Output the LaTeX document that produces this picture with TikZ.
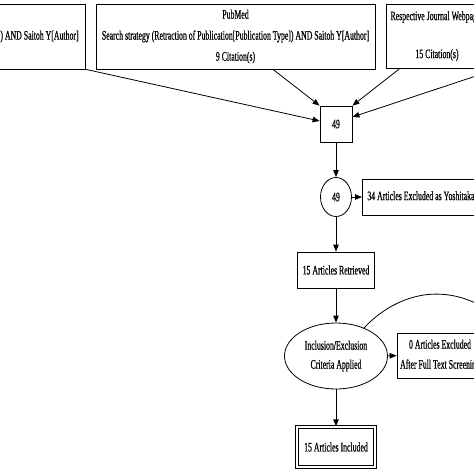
\documentclass[tikz,border=0pt]{standalone}
\usepackage{fontspec}
\setmainfont{Liberation Serif}[FakeStretch=0.6,FakeBold=0.6]
\usetikzlibrary{arrows.meta,shapes.geometric}
\begin{document}
\begin{tikzpicture}[x=1pt,y=-1pt,
  every node/.style={font=\fontsize{13}{21}\selectfont, text=black},
  box/.style={draw, rectangle, line width=0.8pt, inner sep=0pt},
  oval/.style={draw, ellipse, line width=0.8pt, inner sep=0pt},
  edge/.style={line width=0.8pt, -{Triangle[length=7pt,width=5.5pt]}},
  plain/.style={line width=0.8pt}]
\useasboundingbox (0,0) rectangle (474,474);
\fill[white] (0,0) rectangle (474,474);
\clip (0,0) rectangle (474,474);

\node[box, anchor=east, inner xsep=7pt, minimum height=65pt] (lb) at (86,36.5) {\hspace*{160pt}Search strategy (Fujii Y[Author]) AND Saitoh Y[Author]};
\node[box, minimum width=279pt, minimum height=65pt, align=center] (pm) at (235.5,36.5) {PubMed\\Search strategy (Retraction of Publication[Publication Type]) AND Saitoh Y[Author]\\9 Citation(s)};
\node[box, minimum width=102pt, minimum height=64pt, align=center, font=\fontsize{13}{19}\selectfont] (rb) at (437,36) {Respective Journal Webpages\\[19pt]15 Citation(s)};

\node[box, minimum width=32pt, minimum height=36pt] (b49) at (336,124) {49};
\node[oval, minimum width=31pt, minimum height=39pt] (c49) at (336,197) {49};
\node[box, anchor=west, minimum height=36pt, inner xsep=5pt] (ex34) at (362,197) {34 Articles Excluded as Yoshitaka Fujii};
\node[box, minimum width=77pt, minimum height=36pt] (ret) at (336,270) {15 Articles Retrieved};
\node[oval, minimum width=103pt, minimum height=66pt, align=center, font=\fontsize{13}{19}\selectfont] (incl) at (336,356) {Inclusion/Exclusion\\Criteria Applied};
\node[box, minimum width=86pt, minimum height=45pt, align=center, font=\fontsize{13}{20}\selectfont] (ex0) at (440,355.5) {0 Articles Excluded\\After Full Text Screening};
\node[box, double, double distance=2.2pt, minimum width=78pt, minimum height=40.5pt] (inc) at (336,447) {15 Articles Included};

\coordinate (offr) at (500,68);
\coordinate (offc) at (500,318);

\draw[edge] (lb.south east) -- ([yshift=3pt]b49.west);
\draw[edge] ([xshift=37.5pt]pm.south) -- (b49.north west);
\draw[edge] ([xshift=-37pt]rb.south) -- (b49.north east);
\draw[edge] (offr) -- ([yshift=7pt]b49.east);
\draw[edge] (b49) -- (c49);
\draw[edge] (c49) -- (ex34);
\draw[edge] (c49) -- (ret);
\draw[edge] (ret) -- (incl);
\draw[edge] (incl) -- (ex0);
\draw[edge] (incl) -- (inc);
\draw[plain] (incl.45) .. controls (388,302) and (440,272) .. (offc);
\end{tikzpicture}
\end{document}
